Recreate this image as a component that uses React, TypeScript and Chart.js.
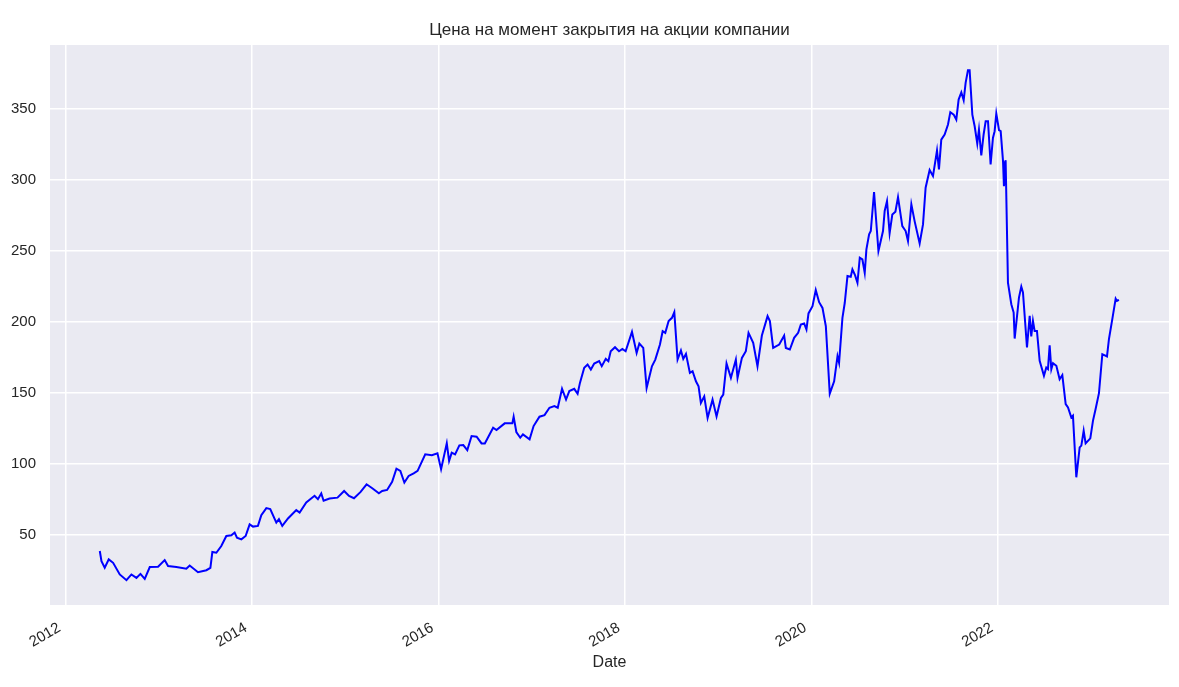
import { useEffect, useRef } from 'react';
import { Chart, registerables } from 'chart.js';

Chart.register(...registerables);

// dates as decimal years (weekly closes)
const dates = [
  2012.368, 2012.386, 2012.421, 2012.464, 2012.511, 2012.582, 2012.654, 2012.707, 2012.761, 2012.804,
  2012.85, 2012.904, 2012.993, 2013.064, 2013.1, 2013.189, 2013.296, 2013.332, 2013.421, 2013.511,
  2013.554, 2013.575, 2013.618, 2013.671, 2013.725, 2013.779, 2013.814, 2013.839, 2013.886, 2013.932,
  2013.975, 2014.011, 2014.064, 2014.1, 2014.154, 2014.196, 2014.261, 2014.289, 2014.325, 2014.386,
  2014.475, 2014.511, 2014.582, 2014.671, 2014.707, 2014.743, 2014.768, 2014.832, 2014.917, 2014.988,
  2015.041, 2015.094, 2015.165, 2015.229, 2015.29, 2015.361, 2015.396, 2015.449, 2015.503, 2015.549,
  2015.591, 2015.634, 2015.68, 2015.734, 2015.776, 2015.858, 2015.929, 2015.989, 2016.028, 2016.089,
  2016.114, 2016.142, 2016.178, 2016.224, 2016.266, 2016.309, 2016.355, 2016.409, 2016.462, 2016.497,
  2016.586, 2016.622, 2016.71, 2016.792, 2016.806, 2016.835, 2016.877, 2016.906, 2016.977, 2017.02,
  2017.083, 2017.137, 2017.19, 2017.243, 2017.279, 2017.325, 2017.368, 2017.403, 2017.456, 2017.492,
  2017.517, 2017.563, 2017.599, 2017.634, 2017.67, 2017.723, 2017.751, 2017.794, 2017.822, 2017.847,
  2017.893, 2017.936, 2017.972, 2018.007, 2018.075, 2018.125, 2018.154, 2018.196, 2018.232, 2018.289,
  2018.325, 2018.375, 2018.404, 2018.432, 2018.468, 2018.504, 2018.529, 2018.564, 2018.6, 2018.625,
  2018.654, 2018.696, 2018.725, 2018.761, 2018.789, 2018.814, 2018.85, 2018.886, 2018.939, 2018.982,
  2019.029, 2019.054, 2019.089, 2019.136, 2019.189, 2019.207, 2019.254, 2019.296, 2019.325, 2019.375,
  2019.421, 2019.468, 2019.529, 2019.554, 2019.589, 2019.654, 2019.707, 2019.725, 2019.768, 2019.814,
  2019.857, 2019.886, 2019.921, 2019.946, 2019.968, 2020.011, 2020.046, 2020.082, 2020.118, 2020.154,
  2020.196, 2020.243, 2020.279, 2020.296, 2020.332, 2020.357, 2020.386, 2020.421, 2020.439, 2020.468,
  2020.493, 2020.518, 2020.546, 2020.571, 2020.589, 2020.618, 2020.636, 2020.671, 2020.718, 2020.767,
  2020.785, 2020.81, 2020.838, 2020.867, 2020.9, 2020.928, 2020.974, 2021.01, 2021.035, 2021.071,
  2021.106, 2021.16, 2021.196, 2021.224, 2021.267, 2021.303, 2021.346, 2021.367, 2021.392, 2021.428,
  2021.464, 2021.489, 2021.525, 2021.553, 2021.578, 2021.607, 2021.632, 2021.653, 2021.678, 2021.696,
  2021.725, 2021.75, 2021.778, 2021.796, 2021.821, 2021.846, 2021.868, 2021.893, 2021.921, 2021.946,
  2021.964, 2021.982, 2022.011, 2022.029, 2022.054, 2022.064, 2022.082, 2022.107, 2022.143, 2022.168,
  2022.179, 2022.225, 2022.25, 2022.268, 2022.311, 2022.34, 2022.357, 2022.375, 2022.393, 2022.418,
  2022.447, 2022.493, 2022.518, 2022.536, 2022.554, 2022.572, 2022.59, 2022.626, 2022.661, 2022.69,
  2022.726, 2022.751, 2022.786, 2022.804, 2022.84, 2022.876, 2022.894, 2022.919, 2022.94, 2022.99,
  2023.019, 2023.047, 2023.083, 2023.119, 2023.169, 2023.19, 2023.226, 2023.262, 2023.276, 2023.297,
];

const closes = [
  38.7, 31.6, 26.9, 32.8, 30.4, 22.2, 18.2, 22.2, 19.8, 22.6,
  19.1, 27.4, 27.6, 32.3, 28.1, 27.4, 26.2, 28.5, 23.8, 25.2,
  26.9, 38.0, 37.5, 42.2, 49.3, 49.8, 51.7, 48.1, 46.9, 49.3,
  57.5, 55.9, 56.4, 63.9, 68.9, 68.2, 58.7, 61.1, 56.4, 61.6,
  67.5, 65.8, 72.9, 77.6, 75.2, 79.2, 74.1, 75.7, 76.3, 81.0,
  77.5, 75.9, 80.3, 85.7, 82.9, 79.4, 81.0, 81.7, 87.4, 96.7,
  95.1, 86.9, 91.6, 93.4, 95.1, 106.8, 106.1, 107.5, 96.3, 114.5,
  102.1, 108.0, 106.8, 113.1, 113.3, 109.8, 119.7, 119.2, 114.5, 114.5,
  125.5, 123.9, 128.6, 128.6, 133.3, 122.5, 118.5, 120.8, 117.3, 126.7,
  133.3, 134.4, 139.6, 140.7, 139.6, 152.9, 145.4, 151.3, 152.9, 149.4,
  157.1, 167.7, 170.0, 166.5, 170.7, 172.4, 168.9, 174.0, 172.4, 179.4,
  182.2, 179.4, 181.0, 179.4, 193.0, 178.2, 184.8, 181.7, 153.5, 168.8,
  173.5, 184.1, 193.5, 192.3, 200.6, 202.9, 206.9, 173.5, 179.9, 174.0,
  177.5, 164.1, 165.3, 158.2, 154.7, 142.9, 147.6, 132.4, 145.3, 133.5,
  146.5, 148.8, 170.7, 160.6, 173.5, 160.6, 174.7, 179.4, 192.3, 185.3,
  168.8, 190.4, 204.1, 200.6, 181.7, 184.1, 190.4, 181.7, 180.6, 188.8,
  192.3, 198.2, 198.9, 194.7, 206.0, 211.1, 222.4, 213.9, 209.9, 197.0,
  149.5, 158.2, 175.9, 171.2, 202.9, 213.5, 232.3, 231.8, 237.0, 232.8,
  227.6, 245.2, 244.0, 234.6, 251.1, 261.7, 264.0, 291.5, 249.9, 264.0,
  278.1, 285.1, 262.4, 275.7, 277.6, 287.9, 267.5, 264.0, 257.0, 282.8,
  271.0, 255.3, 268.7, 294.5, 306.9, 302.7, 320.7, 307.4, 328.4, 332.0,
  339.0, 347.7, 346.0, 342.5, 356.6, 361.7, 356.1, 368.3, 377.2, 377.2,
  346.0, 337.8, 325.6, 335.5, 317.2, 332.0, 341.3, 341.3, 310.9, 329.6,
  334.3, 346.7, 335.0, 334.3, 313.2, 295.6, 313.9, 227.7, 212.5, 206.6,
  188.3, 217.1, 224.9, 220.7, 182.0, 204.3, 189.8, 200.8, 193.7, 193.7,
  172.6, 162.1, 167.9, 166.8, 183.6, 166.8, 171.0, 169.1, 159.7, 162.6,
  142.2, 139.8, 132.8, 134.0, 90.6, 111.7, 112.9, 123.4, 114.5, 118.0,
  130.5, 138.7, 149.9, 177.3, 175.7, 187.9, 202.0, 216.4, 214.8, 215.5,
];

const xTicks = [2012, 2014, 2016, 2018, 2020, 2022];
const yTicks = [50, 100, 150, 200, 250, 300, 350];

const TITLE = 'Цена на момент закрытия на акции компании';
const FONT = "'Liberation Sans', Arial, sans-serif";
const TEXT = '#262626';

// seaborn-like grey plot background
const plotBackground = {
  id: 'plotBackground',
  beforeDraw(chart: Chart) {
    const { ctx, chartArea } = chart;
    ctx.save();
    ctx.fillStyle = '#EAEAF2';
    ctx.fillRect(chartArea.left, chartArea.top, chartArea.width, chartArea.height);
    ctx.restore();
  },
};

// title centred over the plot area, like matplotlib does
const axesTitle = {
  id: 'axesTitle',
  afterDraw(chart: Chart) {
    const { ctx, chartArea } = chart;
    ctx.save();
    ctx.fillStyle = TEXT;
    ctx.font = `17px ${FONT}`;
    ctx.textAlign = 'center';
    ctx.textBaseline = 'middle';
    ctx.fillText(TITLE, (chartArea.left + chartArea.right) / 2, 30);
    ctx.restore();
  },
};

const App = () => {
  const canvasRef = useRef<HTMLCanvasElement>(null);

  useEffect(() => {
    if (!canvasRef.current) return;
    const points = dates.map((d, i) => ({ x: d, y: closes[i] }));

    const chart = new Chart(canvasRef.current, {
      type: 'line',
      data: {
        datasets: [
          {
            label: 'Close',
            data: points,
            borderColor: '#0000FF',
            borderWidth: 2,
            pointRadius: 0,
            tension: 0,
          },
        ],
      },
      options: {
        animation: false,
        responsive: false,
        devicePixelRatio: 1,
        layout: { padding: { top: 45, right: 10, bottom: 0, left: 0 } },
        plugins: {
          legend: { display: false },
          tooltip: { enabled: false },
          title: { display: false },
        },
        scales: {
          x: {
            type: 'linear',
            min: 2011.834,
            max: 2023.834,
            afterBuildTicks: (scale: any) => {
              scale.ticks = xTicks.map((v) => ({ value: v }));
            },
            afterFit: (scale: any) => {
              scale.height = 82;
            },
            ticks: {
              autoSkip: false,
              minRotation: 30,
              maxRotation: 30,
              padding: 14,
              labelOffset: -6,
              color: TEXT,
              font: { family: FONT, size: 15 },
              callback: (v: any) => String(v),
            },
            grid: { color: '#FFFFFF', lineWidth: 1.5, drawTicks: false },
            border: { display: false },
            title: {
              display: true,
              text: 'Date',
              color: TEXT,
              font: { family: FONT, size: 16 },
              padding: { top: 4, bottom: 15 },
            },
          },
          y: {
            type: 'linear',
            min: 0.7,
            max: 395,
            afterBuildTicks: (scale: any) => {
              scale.ticks = yTicks.map((v) => ({ value: v }));
            },
            afterFit: (scale: any) => {
              scale.width = 50;
            },
            ticks: {
              padding: 14,
              color: TEXT,
              font: { family: FONT, size: 15 },
            },
            grid: { color: '#FFFFFF', lineWidth: 1.5, drawTicks: false },
            border: { display: false },
          },
        },
      },
      plugins: [plotBackground, axesTitle],
    });

    return () => chart.destroy();
  }, []);

  return (
    <div style={{ position: 'fixed', left: 0, top: 0, width: 1179, height: 687, background: '#FFFFFF' }}>
      <canvas ref={canvasRef} width={1179} height={687} />
    </div>
  );
};

export default App;
